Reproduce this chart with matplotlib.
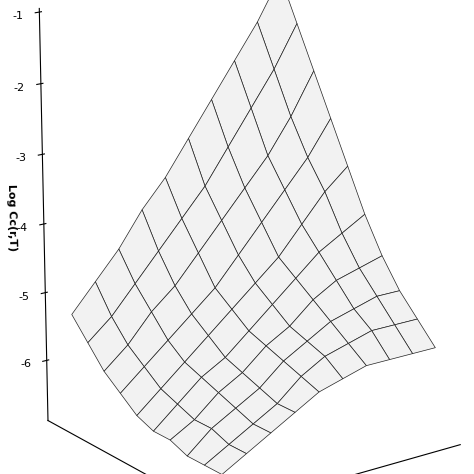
import numpy as np
import matplotlib
matplotlib.use("Agg")
import matplotlib.pyplot as plt

r_vals = [0, 1, 2, 3, 4, 5, 6, 7, 8, 9]
T_vals = [0, 1, 2, 3, 4, 5, 6, 7, 8, 9]
logC = [  # rows: r, columns: T
    [-5.3,-4.9,-4.5,-4.0,-3.6,-3.1,-2.6,-2.1,-1.6,-1.0],
    [-5.6,-5.3,-4.9,-4.5,-4.1,-3.7,-3.2,-2.7,-2.2,-1.6],
    [-5.9,-5.6,-5.2,-4.9,-4.5,-4.1,-3.7,-3.3,-2.8,-2.2],
    [-6.1,-5.8,-5.5,-5.2,-4.9,-4.5,-4.1,-3.7,-3.3,-2.8],
    [-6.3,-6.0,-5.7,-5.4,-5.1,-4.8,-4.5,-4.1,-3.7,-3.4],
    [-6.4,-6.1,-5.8,-5.6,-5.3,-5.0,-4.7,-4.4,-4.2,-4.0],
    [-6.4,-6.2,-5.9,-5.7,-5.4,-5.2,-4.9,-4.7,-4.6,-4.5],
    [-6.5,-6.2,-6.0,-5.8,-5.5,-5.3,-5.1,-5.0,-4.9,-4.9],
    [-6.5,-6.3,-6.1,-5.9,-5.6,-5.4,-5.3,-5.2,-5.2,-5.2],
    [-6.5,-6.3,-6.1,-5.9,-5.7,-5.6,-5.5,-5.5,-5.5,-5.5],
]
z_ticks = [-1, -2, -3, -4, -5, -6]

Tg, Rg = np.meshgrid(T_vals, r_vals)
Z = np.array(logC)

fig = plt.figure(figsize=(4.74, 4.74), dpi=100)
ax = fig.add_axes([-0.11, -0.18, 1.25, 1.36], projection="3d")
ax.plot_surface(Tg, Rg, Z, color="#f2f2f2", edgecolor="#222222", linewidth=0.5,
                shade=False)
ax.invert_yaxis()
ax.view_init(elev=18, azim=-126)
ax.set_box_aspect((1, 1, 1.45))
ax.set_zlim(-6.9, -0.95)
ax.set_zticks(z_ticks)
ax.set_zticklabels([str(t) for t in z_ticks], fontsize=8)
ax.set_xticks([]); ax.set_yticks([])
ax.set_zlabel("Log Cc(r,T)", fontsize=8, fontweight="bold", labelpad=-4)
for a in (ax.xaxis, ax.yaxis, ax.zaxis):
    a.pane.fill = False
    a.pane.set_edgecolor("white")
ax.grid(False)
fig.savefig("out.png", dpi=100)
